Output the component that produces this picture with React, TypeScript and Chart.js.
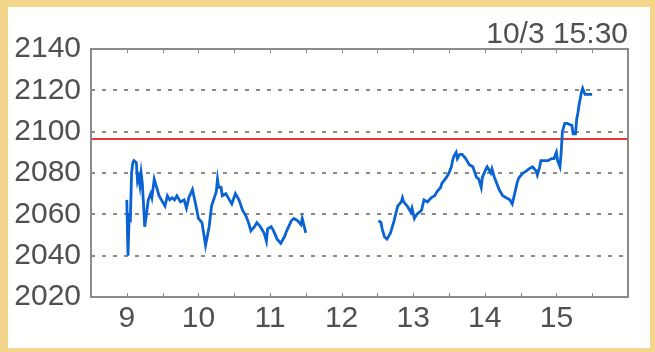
import React, { useEffect, useRef } from "react";
import { Chart, registerables } from "chart.js";

Chart.register(...registerables);

// Morning session (9:00 - 11:30)
const amTimes = [
  "9:00", "9:01", "9:02", "9:03", "9:04", "9:05", "9:06", "9:08", "9:09", "9:10",
  "9:11", "9:12", "9:13", "9:14", "9:15", "9:16", "9:18", "9:20", "9:21", "9:23",
  "9:25", "9:27", "9:29", "9:32", "9:34", "9:36", "9:38", "9:40", "9:42", "9:45",
  "9:48", "9:50", "9:52", "9:55", "9:58", "10:00", "10:03", "10:06", "10:09", "10:11",
  "10:15", "10:16", "10:17", "10:19", "10:20", "10:23", "10:26", "10:28", "10:31", "10:34",
  "10:37", "10:40", "10:42", "10:44", "10:47", "10:49", "10:52", "10:55", "10:57", "10:58",
  "11:01", "11:03", "11:06", "11:09", "11:12", "11:14", "11:18", "11:20", "11:23", "11:26",
  "11:27", "11:30",
];
const amValues = [
  2067, 2040, 2059, 2058, 2080, 2085, 2086, 2085, 2076, 2078,
  2074, 2080, 2075, 2065, 2054, 2058, 2067, 2070, 2068, 2077,
  2073, 2069, 2067, 2064, 2069, 2067, 2068, 2067, 2069, 2066,
  2067, 2063, 2068, 2072, 2064, 2058, 2056, 2045, 2054, 2064,
  2071, 2077, 2073, 2073, 2069, 2070, 2067, 2065, 2070, 2067,
  2062, 2059, 2056, 2052, 2054, 2056, 2054, 2051, 2047, 2053,
  2054, 2052, 2048, 2046, 2049, 2052, 2057, 2058, 2057, 2055,
  2058, 2051,
];

// Afternoon session (12:30 - 15:30)
const pmTimes = [
  "12:31", "12:33", "12:34", "12:36", "12:38", "12:41", "12:44", "12:47", "12:50", "12:51",
  "12:52", "12:55", "12:58", "12:59", "13:01", "13:03", "13:07", "13:09", "13:12", "13:15",
  "13:18", "13:20", "13:23", "13:24", "13:28", "13:30", "13:32", "13:33", "13:34", "13:36",
  "13:37", "13:39", "13:41", "13:44", "13:47", "13:50", "13:53", "13:55", "13:57", "13:58",
  "14:01", "14:02", "14:05", "14:06", "14:08", "14:10", "14:12", "14:15", "14:18", "14:21",
  "14:23", "14:25", "14:27", "14:28", "14:29", "14:32", "14:35", "14:37", "14:40", "14:43",
  "14:44", "14:46", "14:47", "14:50", "14:53", "14:56", "14:58", "15:00", "15:01", "15:03",
  "15:04", "15:05", "15:07", "15:09", "15:13", "15:14", "15:16", "15:17", "15:18", "15:19",
  "15:21", "15:22", "15:24", "15:25", "15:30",
];
const pmValues = [
  2057, 2056, 2053, 2049, 2048, 2051, 2057, 2064, 2066, 2068,
  2066, 2064, 2061, 2063, 2058, 2060, 2062, 2067, 2066, 2068,
  2069, 2071, 2073, 2075, 2078, 2080, 2083, 2086, 2088, 2090,
  2087, 2089, 2089, 2087, 2084, 2083, 2078, 2077, 2073, 2078,
  2082, 2083, 2080, 2082, 2078, 2075, 2072, 2069, 2068, 2067,
  2065, 2070, 2075, 2077, 2078, 2080, 2081, 2082, 2083, 2081,
  2079, 2083, 2086, 2086, 2086, 2087, 2087, 2090, 2086, 2083,
  2090, 2100, 2104, 2104, 2103, 2099, 2099, 2106, 2109, 2113,
  2119, 2121, 2118, 2118, 2118,
];

const referencePrice = 2096.5;
const yTickValues = [2020, 2040, 2060, 2080, 2100, 2120, 2140];
const hourLabels = [9, 10, 11, 12, 13, 14, 15];
const halfHourMarks = [9, 9.5, 10, 10.5, 11, 11.5, 12, 12.5, 13, 13.5, 14, 14.5, 15, 15.5];
const stampLabel = "10/3 15:30";

const toHours = (t: string) => {
  const [h, m] = t.split(":").map(Number);
  return h + m / 60;
};

const FONT = "'Liberation Sans', Arial, sans-serif";
const TEXT_COLOR = "#505050";
const AXIS_COLOR = "#8a8a8a";

export default function App() {
  const ref = useRef<HTMLCanvasElement>(null);

  useEffect(() => {
    document.body.style.margin = "0";
    const lineData: any[] = [
      ...amTimes.map((t, i) => ({ x: toHours(t), y: amValues[i] })),
      { x: 12, y: null },
      ...pmTimes.map((t, i) => ({ x: toHours(t), y: pmValues[i] })),
    ];

    const framePlugin = {
      id: "frame",
      afterDraw(chart: any) {
        const { ctx, chartArea, scales } = chart;
        const { left, right, top, bottom } = chartArea;
        ctx.save();
        ctx.strokeStyle = AXIS_COLOR;
        ctx.lineWidth = 1;
        halfHourMarks.forEach((h) => {
          const x = Math.round(scales.x.getPixelForValue(h)) + 0.5;
          ctx.beginPath();
          ctx.moveTo(x, bottom);
          ctx.lineTo(x, bottom - 4);
          ctx.moveTo(x, top);
          ctx.lineTo(x, top + 4);
          ctx.stroke();
        });
        ctx.lineWidth = 2;
        ctx.strokeRect(left, top, right - left, bottom - top);
        ctx.fillStyle = TEXT_COLOR;
        ctx.font = `30px ${FONT}`;
        ctx.textAlign = "right";
        ctx.textBaseline = "alphabetic";
        ctx.fillText(stampLabel, right, top - 6);
        ctx.restore();
      },
    };

    const chart = new Chart(ref.current!, {
      type: "line",
      data: {
        datasets: [
          {
            data: lineData,
            borderColor: "#0b63d3",
            borderWidth: 2.8,
            pointRadius: 0,
            spanGaps: false,
            tension: 0,
          },
          {
            data: [
              { x: 8.5, y: referencePrice },
              { x: 16, y: referencePrice },
            ],
            borderColor: "#e0393b",
            borderWidth: 2,
            pointRadius: 0,
          },
        ],
      },
      options: {
        animation: false,
        responsive: false,
        layout: { padding: { top: 49, right: 27, left: 0, bottom: 0 } },
        plugins: { legend: { display: false }, tooltip: { enabled: false } },
        scales: {
          x: {
            type: "linear",
            min: 8.5,
            max: 16,
            afterBuildTicks: (s: any) => {
              s.ticks = hourLabels.map((v) => ({ value: v }));
            },
            afterFit: (s: any) => {
              s.height = 55;
            },
            ticks: {
              autoSkip: false,
              maxRotation: 0,
              padding: 4,
              color: TEXT_COLOR,
              font: { family: FONT, size: 30 },
              callback: (v: any) => String(v),
            },
            grid: { display: false, drawTicks: false },
            border: { display: false },
          },
          y: {
            min: 2020,
            max: 2140,
            afterBuildTicks: (s: any) => {
              s.ticks = yTickValues.map((v) => ({ value: v }));
            },
            afterFit: (s: any) => {
              s.width = 91;
            },
            ticks: {
              padding: 10,
              color: TEXT_COLOR,
              font: { family: FONT, size: 30 },
              callback: (v: any) => String(v),
            },
            grid: {
              drawTicks: false,
              lineWidth: 2,
              color: (c: any) =>
                c.tick && (c.tick.value === 2020 || c.tick.value === 2140)
                  ? "rgba(0,0,0,0)"
                  : AXIS_COLOR,
            },
            border: { display: false, dash: [4, 7] },
          },
        },
      },
      plugins: [framePlugin],
    } as any);
    return () => chart.destroy();
  }, []);

  return (
    <div style={{ position: "relative", width: 655, height: 352, background: "#fffffd" }}>
      <div
        style={{
          position: "absolute",
          inset: 0,
          borderStyle: "solid",
          borderColor: "#f3d58b",
          borderWidth: "7px 5px 4px 8px",
        }}
      />
      <canvas ref={ref} width={655} height={352} style={{ position: "absolute", left: 0, top: 0 }} />
    </div>
  );
}
